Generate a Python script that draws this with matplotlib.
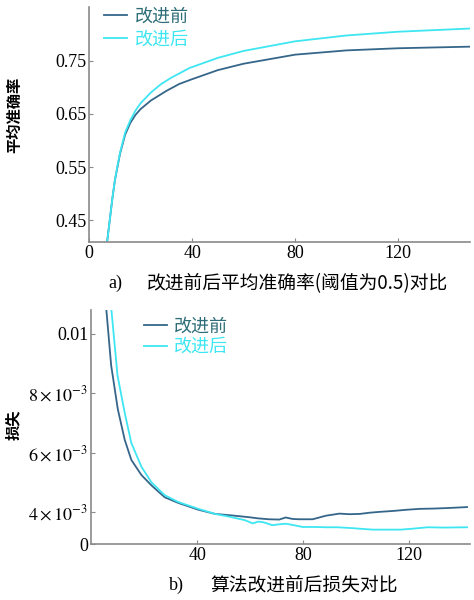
import matplotlib
matplotlib.use('Agg')
import matplotlib.pyplot as plt

plt.rcParams['font.family'] = ['Liberation Serif', 'Noto Sans CJK SC']
plt.rcParams['mathtext.fontset'] = 'stix'

# (a) mean accuracy, threshold 0.5
acc_x_before = [7, 8, 9, 10, 11, 12, 14, 16, 18, 20, 24, 30, 35, 40, 50, 60, 80, 100, 120, 148]
acc_before = [0.41, 0.45, 0.49, 0.525, 0.55, 0.575, 0.611, 0.633, 0.648, 0.659, 0.675, 0.693, 0.706, 0.715, 0.732, 0.744, 0.761, 0.769, 0.773, 0.776]
acc_x_after = [7, 8, 9, 10, 11, 12, 14, 16, 18, 20, 24, 28, 32, 39, 50, 60, 80, 100, 120, 148]
acc_after = [0.41, 0.45, 0.49, 0.525, 0.552, 0.577, 0.615, 0.638, 0.656, 0.670, 0.690, 0.706, 0.718, 0.736, 0.755, 0.768, 0.786, 0.797, 0.804, 0.810]

# (b) loss (units of 1e-3)
loss_x_before = [5.7, 7.6, 10.1, 12.7, 15.2, 19, 22.8, 27.8, 32.9, 40.5, 46.8, 53, 59.5, 63, 67, 71, 73.4, 76, 78.5, 83.6, 88.6, 93.7, 97.5, 101.4, 105, 109, 114, 119, 124, 129.3, 135, 141.8]
loss_before = [10.9, 8.94, 7.47, 6.44, 5.76, 5.25, 4.9, 4.5, 4.31, 4.08, 3.94, 3.89, 3.83, 3.79, 3.76, 3.75, 3.82, 3.77, 3.76, 3.76, 3.88, 3.95, 3.93, 3.94, 3.98, 4.01, 4.04, 4.08, 4.11, 4.12, 4.14, 4.17]
loss_x_after = [7.6, 10, 12.7, 15.2, 19, 22.8, 27.8, 32.9, 40.5, 46.8, 53, 58, 61, 63, 65, 68.4, 71, 73.4, 76, 79.8, 84.8, 88.6, 93, 98.8, 103, 106.5, 111, 116.7, 121, 126.9, 133, 141.8]
loss_after = [10.9, 8.6, 7.35, 6.33, 5.53, 5.0, 4.57, 4.34, 4.11, 3.94, 3.83, 3.73, 3.62, 3.68, 3.66, 3.56, 3.59, 3.61, 3.57, 3.5, 3.5, 3.49, 3.49, 3.46, 3.43, 3.41, 3.41, 3.41, 3.44, 3.49, 3.48, 3.49]

labels = ['改进前', '改进后']
c_before = '#35668a'
c_after = '#3ee6f2'
txt_before = '#2e6e78'
cjk = ['Noto Sans CJK SC']

fig = plt.figure(figsize=(4.74, 6), dpi=100)
ax1 = fig.add_axes([0.188, 0.597, 0.804, 0.391])
ax2 = fig.add_axes([0.192, 0.093, 0.800, 0.390])


def style(ax):
    for s in ['top', 'right']:
        ax.spines[s].set_visible(False)
    for s in ['left', 'bottom']:
        ax.spines[s].set_color('#8a8a8a')
        ax.spines[s].set_linewidth(1.2)
    ax.tick_params(direction='in', length=3, color='#8a8a8a', labelsize=13, pad=2)


ax1.plot(acc_x_before, acc_before, color=c_before, lw=1.3)
ax1.plot(acc_x_after, acc_after, color=c_after, lw=1.3)
ax1.set_xlim(0, 148)
ax1.set_ylim(0.41, 0.85)
ax1.set_xticks([0, 40, 80, 120])
ax1.set_yticks([0.45, 0.55, 0.65, 0.75])
ax1.set_yticklabels(['0.45', '0.55', '0.65', '0.75'])
style(ax1)
ax1.set_ylabel('平均准确率', family=cjk, fontsize=11, fontweight='bold')
ax1.yaxis.set_label_coords(-0.175, 0.54)
leg1 = ax1.legend(labels, loc='upper left', frameon=False, prop={'family': cjk, 'size': 13},
                  handlelength=1.3, borderaxespad=0.0, labelspacing=0.3, handletextpad=0.4,
                  bbox_to_anchor=(0.02, 1.03))
for t, c in zip(leg1.get_texts(), [txt_before, c_after]):
    t.set_color(c)
fig.text(0.228, 0.528, 'a)', fontsize=13, ha='left', va='center')
fig.text(0.31, 0.528, '改进前后平均准确率(阈值为0.5)对比', family=cjk, fontsize=13.5,
         ha='left', va='center')

ax2.plot(loss_x_before, [v * 1e-3 for v in loss_before], color=c_before, lw=1.3)
ax2.plot(loss_x_after, [v * 1e-3 for v in loss_after], color=c_after, lw=1.3)
ax2.set_xlim(0, 143)
ax2.set_ylim(2.92e-3, 10.8e-3)
ax2.set_xticks([40, 80, 120])
ax2.set_yticks([2.92e-3, 4e-3, 6e-3, 8e-3, 0.01])
ax2.set_yticklabels(['0', r'$4\times10^{-3}$', r'$6\times10^{-3}$', r'$8\times10^{-3}$', '0.01'])
style(ax2)
ax2.set_ylabel('损失', family=cjk, fontsize=11, fontweight='bold')
ax2.yaxis.set_label_coords(-0.185, 0.51)
leg2 = ax2.legend(labels, loc='upper left', frameon=False, prop={'family': cjk, 'size': 13},
                  handlelength=1.3, borderaxespad=0.0, labelspacing=0.15, handletextpad=0.4,
                  bbox_to_anchor=(0.12, 1.0))
for t, c in zip(leg2.get_texts(), [txt_before, c_after]):
    t.set_color(c)
fig.text(0.357, 0.025, 'b)', fontsize=13, ha='left', va='center')
fig.text(0.443, 0.025, '算法改进前后损失对比', family=cjk, fontsize=13.5,
         ha='left', va='center')

fig.savefig('out.png', dpi=100)
